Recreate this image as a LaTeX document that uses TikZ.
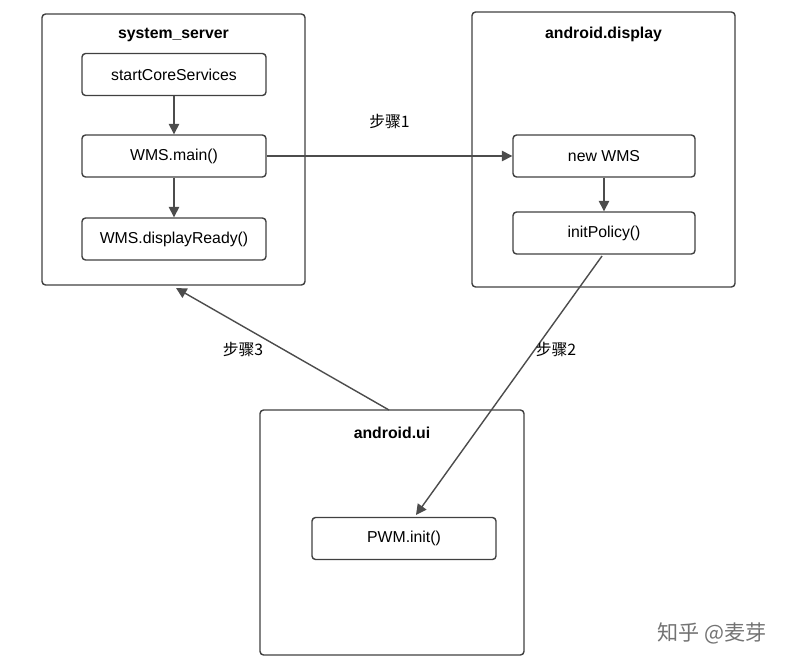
\documentclass[tikz,border=0pt]{standalone}
\usepackage{fontspec}
\setmainfont{Liberation Sans}
\newfontfamily\cjk{Noto Sans CJK SC}
\usetikzlibrary{arrows.meta}
\tikzset{
  proc/.style={draw=black!75, thick, rounded corners=2pt, minimum width=3.68cm, minimum height=0.84cm, font=\small},
  group/.style={draw=black!75, thick, rounded corners=2pt},
  title/.style={font=\small\bfseries},
  flow/.style={draw=black!70, thick, -{Triangle[length=6pt,width=6pt]}},
  steplabel/.style={font=\cjk\small}
}
\begin{document}
\begin{tikzpicture}[x=0.02cm,y=-0.02cm]
\useasboundingbox (0,0) rectangle (794,670);

% system_server
\node[group, minimum width=5.26cm, minimum height=5.42cm] (server) at (173.5,149.5) {};
\node[title] (servertitle) at (173.5,35) {system\_server};
\node[proc] (start) at (174,74.5) {startCoreServices};
\node[proc] (wmsmain) at (174,156) {WMS.main()};
\node[proc] (ready) at (174,239) {WMS.displayReady()};
\draw[flow] (start) -- (wmsmain);
\draw[flow] (wmsmain) -- (ready);

% android.display
\node[group, minimum width=5.26cm, minimum height=5.5cm] (display) at (603.5,149.5) {};
\node[title] (displaytitle) at (603.5,34) {android.display};
\node[proc, minimum width=3.64cm] (newwms) at (604,156) {new WMS};
\node[proc, minimum width=3.64cm] (initpolicy) at (604,233) {initPolicy()};
\draw[flow] (newwms) -- (initpolicy);

% android.ui
\node[group, minimum width=5.28cm, minimum height=4.9cm] (ui) at (392,532.5) {};
\node[title] (uititle) at (392,433) {android.ui};
\node[proc] (pwminit) at (404,538.5) {PWM.init()};

% steps
\draw[flow] (wmsmain) -- (newwms) node[steplabel, pos=0.5, above=12pt] {步骤1};
\coordinate (policyout) at (602,256);
\coordinate (pwmin) at (416,515);
\draw[flow] (policyout) -- (pwmin);
\node[steplabel] (step2) at (556,349) {步骤2};
\coordinate (uiout) at (389,410);
\coordinate (serverin) at (176,288);
\draw[flow] (uiout) -- (serverin);
\node[steplabel] (step3) at (243,349) {步骤3};

\node[font=\cjk\large, text=black!55] (mark) at (712,633) {知乎 @麦芽};
\end{tikzpicture}
\end{document}
